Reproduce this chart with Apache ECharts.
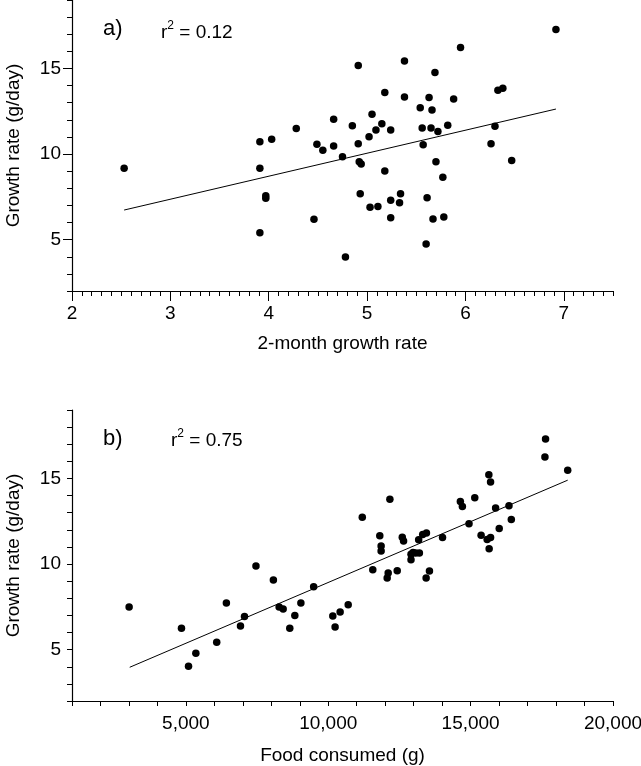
<!DOCTYPE html>
<html>
<head>
<meta charset="utf-8">
<title>Growth rate</title>
<script src="https://cdn.jsdelivr.net/npm/echarts@6/dist/echarts.min.js"></script>
<style>
	html, body { margin: 0; padding: 0; background: #fff; }
	#growth { width: 641px; height: 766px; }
</style>
</head>
<body>
<div id="growth"></div>
<script>
// a) 2-month growth rate vs growth rate
var aX = [2.53, 3.91, 3.91, 4.03, 4.28, 4.49, 3.97, 3.97, 3.91, 4.46, 6.92, 5.95, 4.91, 5.38, 5.69, 5.18, 5.38, 5.63, 5.88, 6.33,
	6.38, 5.54, 5.66, 4.66, 5.05, 4.85, 5.15, 5.09, 5.24, 5.56, 5.65, 5.72, 5.82, 6.30, 5.02, 4.91, 4.55, 4.66, 4.75, 5.57,
	6.26, 4.92, 4.94, 5.70, 6.47, 5.18, 5.77, 4.93, 5.34, 5.61, 5.24, 5.33, 5.03, 5.11, 5.24, 5.67, 5.78, 4.78, 5.60];
var aY = [9.17, 10.72, 9.17, 10.86, 11.50, 10.58, 7.57, 7.42, 5.41, 6.19, 17.27, 16.22, 15.17, 15.44, 14.77, 13.60, 13.34, 13.31, 13.21, 13.73,
	13.85, 12.70, 12.57, 12.04, 12.32, 11.65, 11.77, 11.40, 11.40, 11.52, 11.52, 11.32, 11.69, 11.62, 11.01, 10.60, 10.22, 10.47, 9.84, 10.54,
	10.60, 9.55, 9.42, 9.55, 9.63, 9.01, 8.64, 7.68, 7.68, 7.45, 7.30, 7.16, 6.89, 6.93, 6.28, 6.21, 6.32, 3.99, 4.75];
var fitAX = [2.53, 6.92];
var fitAY = [6.73, 12.63];

// b) food consumed vs growth rate
var bX = [3006, 7461, 8073, 9487, 6422, 7058, 8274, 8416, 9038, 8826, 4845, 6917, 8648, 6082, 5350, 5092, 17631, 17609, 18409, 15640,
	15700, 15145, 14639, 14710, 12164, 11195, 15877, 16347, 16429, 14943, 16004, 15368, 15580, 15700, 15650, 14013, 11810, 11856, 11856, 12599,
	12645, 13175, 13317, 13448, 12906, 12977, 13069, 13200, 12906, 11563, 12104, 12069, 12422, 13554, 13437, 10159, 10417, 10700, 10240];
var bY = [7.49, 9.88, 9.07, 8.68, 7.73, 6.94, 7.49, 7.38, 7.73, 6.99, 6.25, 6.38, 6.25, 5.43, 4.79, 4.03, 17.31, 16.26, 15.48, 15.22,
	14.80, 13.88, 13.65, 13.36, 13.79, 12.74, 13.27, 13.40, 12.60, 12.35, 12.08, 11.69, 11.43, 11.55, 10.89, 11.55, 11.65, 11.05, 10.76, 11.57,
	11.34, 11.42, 11.73, 11.81, 10.58, 10.68, 10.64, 10.64, 10.25, 9.67, 9.48, 9.18, 9.61, 9.59, 9.18, 6.97, 7.20, 7.63, 6.33];
var fitBX = [3027, 18409];
var fitBY = [3.97, 14.90];

// tick labels
var aXLabels = [2, 3, 4, 5, 6, 7];
var yLabels = [5, 10, 15];
var bXLabels = [5000, 10000, 15000, 20000];

function zip(xs, ys) {
	var out = [];
	for (var i = 0; i < xs.length; i++) {
		out.push([xs[i], ys[i]]);
	}
	return out;
}

function thousands(v) {
	return String(v).replace(/\B(?=(\d{3})+(?!\d))/g, ',');
}

var font = 'Liberation Sans, Arial, sans-serif';
var black = '#000';
var labelStyle = { color: black, fontSize: 19, fontFamily: font };

function r2Title(txt, left, top) {
	return {
		text: '{n|r}{s|2}{n| = ' + txt + '}', left: left, top: top,
		textStyle: {
			fontWeight: 'normal',
			rich: {
				n: { fontSize: 19, fontWeight: 'normal', color: black, fontFamily: font, verticalAlign: 'bottom', lineHeight: 22 },
				s: { fontSize: 12, fontWeight: 'normal', color: black, fontFamily: font, verticalAlign: 'top', lineHeight: 22 }
			}
		}
	};
}

var myChart = echarts.init(document.getElementById('growth'));

option = {
	backgroundColor: '#fff',
	animation: false,
	textStyle: { fontFamily: font, color: black },
	title: [
		{ text: 'a)', left: 98, top: 13, textStyle: { fontSize: 22, fontWeight: 'normal', color: black, fontFamily: font } },
		r2Title('0.12', 156, 15),
		{ text: 'b)', left: 98, top: 423, textStyle: { fontSize: 22, fontWeight: 'normal', color: black, fontFamily: font } },
		r2Title('0.75', 166, 423)
	],
	// keep the plot boxes fixed, names may sit near the page edge
	grid: [
		{ left: 72, right: 28, top: 0, height: 291, outerBoundsMode: 'none' },
		{ left: 72, right: 28, top: 410, height: 291, outerBoundsMode: 'none' }
	],
	xAxis: [
		{
			gridIndex: 0, type: 'value', min: 2, max: 7.5, interval: 0.1,
			axisLine: { onZero: false, lineStyle: { color: black, width: 1.2 } },
			axisTick: { length: 5, lineStyle: { color: black } },
			axisLabel: Object.assign({ customValues: aXLabels, margin: 13 }, labelStyle),
			splitLine: { show: false },
			name: '2-month growth rate', nameLocation: 'middle', nameGap: 43,
			nameTextStyle: labelStyle
		},
		{
			gridIndex: 0, type: 'value', min: 2, max: 7.5, position: 'bottom',
			axisLine: { show: false, onZero: false },
			axisTick: { customValues: aXLabels, length: 10, lineStyle: { color: black } },
			axisLabel: { show: false },
			splitLine: { show: false }
		},
		{
			gridIndex: 1, type: 'value', min: 1000, max: 20000, interval: 1000,
			axisLine: { onZero: false, lineStyle: { color: black, width: 1.2 } },
			axisTick: { length: 5, lineStyle: { color: black } },
			axisLabel: Object.assign({ customValues: bXLabels, margin: 13, formatter: thousands }, labelStyle),
			splitLine: { show: false },
			name: 'Food consumed (g)', nameLocation: 'middle', nameGap: 45,
			nameTextStyle: labelStyle
		}
	],
	yAxis: [
		{
			gridIndex: 0, type: 'value', min: 2, max: 19, interval: 1,
			axisLine: { onZero: false, lineStyle: { color: black, width: 1.2 } },
			axisTick: { length: 5, lineStyle: { color: black } },
			axisLabel: Object.assign({ customValues: yLabels, margin: 11 }, labelStyle),
			splitLine: { show: false },
			name: 'Growth rate (g/day)', nameLocation: 'middle', nameGap: 49,
			nameTextStyle: labelStyle
		},
		{
			gridIndex: 0, type: 'value', min: 2, max: 19, position: 'left',
			axisLine: { show: false, onZero: false },
			axisTick: { customValues: yLabels, length: 9, lineStyle: { color: black } },
			axisLabel: { show: false },
			splitLine: { show: false }
		},
		{
			gridIndex: 1, type: 'value', min: 2, max: 19, interval: 1,
			axisLine: { onZero: false, lineStyle: { color: black, width: 1.2 } },
			axisTick: { length: 5, lineStyle: { color: black } },
			axisLabel: Object.assign({ customValues: yLabels, margin: 11 }, labelStyle),
			splitLine: { show: false },
			name: 'Growth rate (g/day)', nameLocation: 'middle', nameGap: 49,
			nameTextStyle: labelStyle
		}
	],
	series: [
		{
			name: 'a', type: 'scatter', xAxisIndex: 0, yAxisIndex: 0,
			symbolSize: 7.5, itemStyle: { color: black, opacity: 1 },
			data: zip(aX, aY)
		},
		{
			name: 'a fit', type: 'line', xAxisIndex: 0, yAxisIndex: 0,
			symbol: 'none', lineStyle: { color: black, width: 1 },
			data: zip(fitAX, fitAY)
		},
		{
			name: 'b', type: 'scatter', xAxisIndex: 2, yAxisIndex: 2,
			symbolSize: 7.5, itemStyle: { color: black, opacity: 1 },
			data: zip(bX, bY)
		},
		{
			name: 'b fit', type: 'line', xAxisIndex: 2, yAxisIndex: 2,
			symbol: 'none', lineStyle: { color: black, width: 1 },
			data: zip(fitBX, fitBY)
		}
	]
};

myChart.setOption(option);
</script>
</body>
</html>
